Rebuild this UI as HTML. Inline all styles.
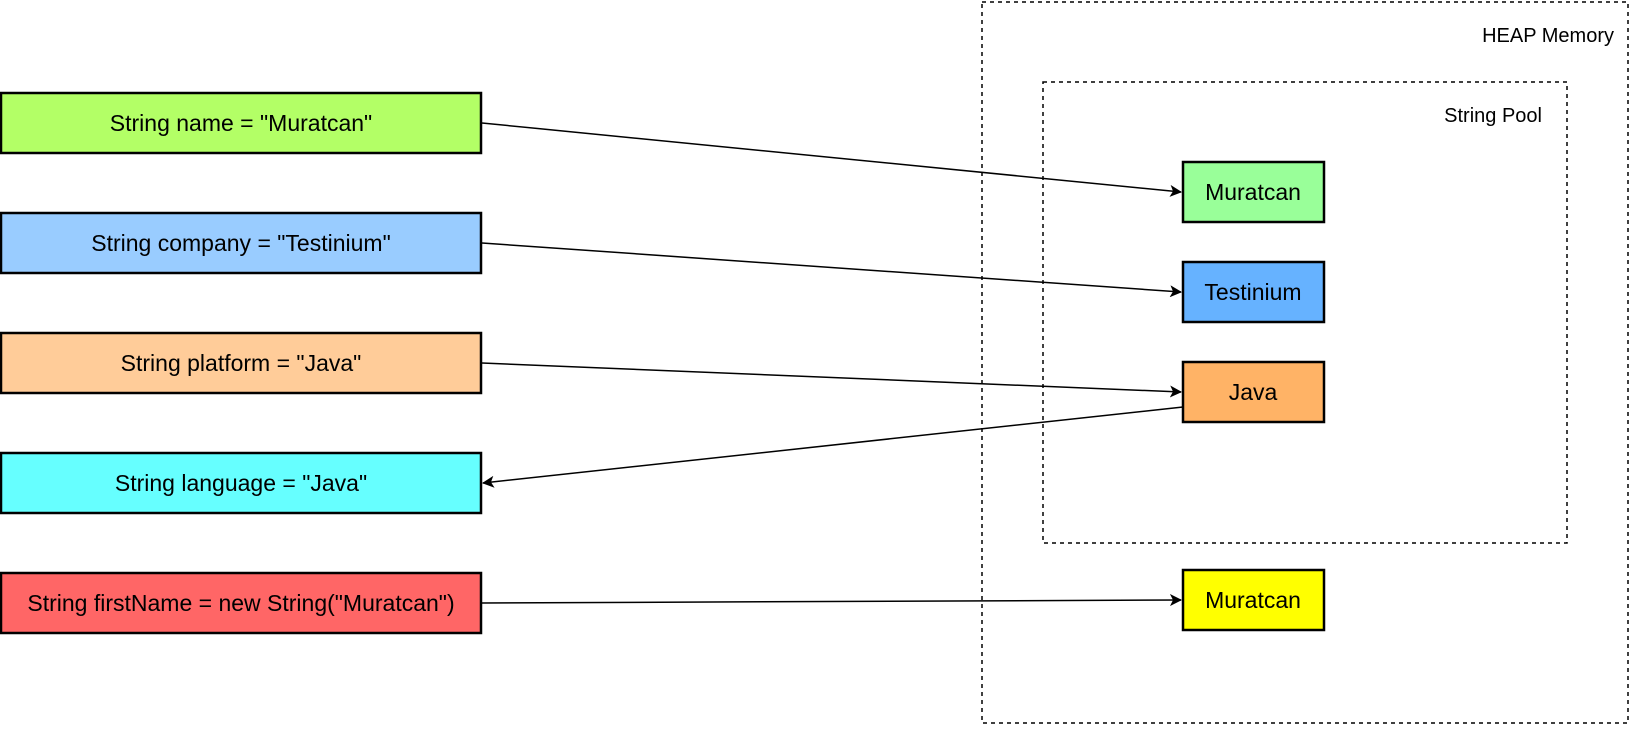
<!DOCTYPE html>
<html><head><meta charset="utf-8"><style>
html,body{margin:0;padding:0;background:#fff;}
svg{display:block;}
text{font-family:"Liberation Sans",Arial,sans-serif;fill:#000;}
</style></head><body>
<svg width="1640" height="746" viewBox="0 0 1640 746" xmlns="http://www.w3.org/2000/svg">
<defs>
<marker id="a" viewBox="0 0 12 12" refX="11" refY="6" markerWidth="12" markerHeight="12" markerUnits="userSpaceOnUse" orient="auto">
<path d="M0,0 L12,6 L0,12 L3,6 Z" fill="#000"/>
</marker>
</defs>
<rect x="982" y="2" width="646" height="721" fill="none" stroke="#000" stroke-width="1.5" stroke-dasharray="4 4"/>
<text x="1614" y="42" font-size="20" text-anchor="end">HEAP Memory</text>
<rect x="1043" y="82" width="524" height="461" fill="none" stroke="#000" stroke-width="1.5" stroke-dasharray="4 4"/>
<text x="1542" y="122" font-size="20" text-anchor="end">String Pool</text>

<g stroke="#000" stroke-width="2.5">
<rect x="1" y="93" width="480" height="60" fill="#b3ff66"/>
<rect x="1" y="213" width="480" height="60" fill="#99ccff"/>
<rect x="1" y="333" width="480" height="60" fill="#ffcc99"/>
<rect x="1" y="453" width="480" height="60" fill="#66ffff"/>
<rect x="1" y="573" width="480" height="60" fill="#ff6666"/>
<rect x="1183" y="162" width="141" height="60" fill="#99ff99"/>
<rect x="1183" y="262" width="141" height="60" fill="#66b2ff"/>
<rect x="1183" y="362" width="141" height="60" fill="#ffb366"/>
<rect x="1183" y="570" width="141" height="60" fill="#ffff00"/>
</g>
<g font-size="23" text-anchor="middle">
<text x="241" y="131">String name = "Muratcan"</text>
<text x="241" y="251">String company = "Testinium"</text>
<text x="241" y="371">String platform = "Java"</text>
<text x="241" y="491">String language = "Java"</text>
<text x="241" y="611">String firstName = new String("Muratcan")</text>
<text x="1253" y="200">Muratcan</text>
<text x="1253" y="300">Testinium</text>
<text x="1253" y="400">Java</text>
<text x="1253" y="608">Muratcan</text>
</g>
<g stroke="#000" stroke-width="1.5" fill="none">
<line x1="482" y1="123" x2="1181" y2="192" marker-end="url(#a)"/>
<line x1="482" y1="243" x2="1181" y2="292" marker-end="url(#a)"/>
<line x1="482" y1="363" x2="1181" y2="392" marker-end="url(#a)"/>
<line x1="1183" y1="407" x2="483" y2="483" marker-end="url(#a)"/>
<line x1="482" y1="603" x2="1181" y2="600" marker-end="url(#a)"/>
</g>
</svg>
</body></html>
